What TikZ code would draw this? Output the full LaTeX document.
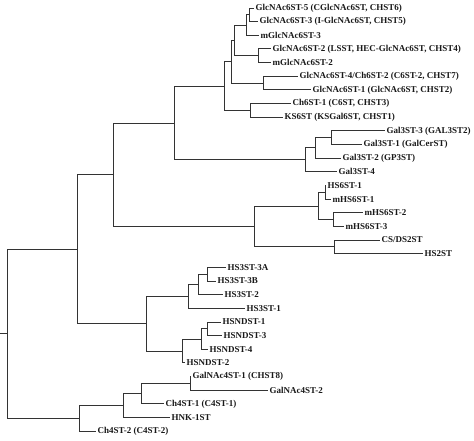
\documentclass[tikz,border=0pt]{standalone}
\usepackage{fontspec}
\setmainfont{Liberation Serif}
\begin{document}
\begin{tikzpicture}[x=1pt,y=-1pt,
  branch/.style={line width=0.9pt, draw=black!80},
  lab/.style={anchor=west, inner sep=1.5pt, text=black!90, font=\bfseries\fontsize{9}{10.5}\selectfont}]
\useasboundingbox (0,0) rectangle (474,441);
% leaves
\node[lab] (l1) at (254,8) {GlcNAc6ST-5 (CGlcNAc6ST, CHST6)};
\node[lab] (l2) at (258,21.65) {GlcNAc6ST-3 (I-GlcNAc6ST, CHST5)};
\node[lab] (l3) at (259,35.3) {mGlcNAc6ST-3};
\node[lab] (l4) at (271,48.95) {GlcNAc6ST-2 (LSST, HEC-GlcNAc6ST, CHST4)};
\node[lab] (l5) at (271,62.6) {mGlcNAc6ST-2};
\node[lab] (l6) at (298,76.25) {GlcNAc6ST-4/Ch6ST-2 (C6ST-2, CHST7)};
\node[lab] (l7) at (311,89.9) {GlcNAc6ST-1 (GlcNAc6ST, CHST2)};
\node[lab] (l8) at (291,103.55) {Ch6ST-1 (C6ST, CHST3)};
\node[lab] (l9) at (283,117.2) {KS6ST (KSGal6ST, CHST1)};
\node[lab] (l10) at (385,130.85) {Gal3ST-3 (GAL3ST2)};
\node[lab] (l11) at (362,144.5) {Gal3ST-1 (GalCerST)};
\node[lab] (l12) at (341,158.15) {Gal3ST-2 (GP3ST)};
\node[lab] (l13) at (337,171.8) {Gal3ST-4};
\node[lab] (l14) at (326,185.45) {HS6ST-1};
\node[lab] (l15) at (331,199.1) {mHS6ST-1};
\node[lab] (l16) at (363,212.75) {mHS6ST-2};
\node[lab] (l17) at (344,226.4) {mHS6ST-3};
\node[lab] (l18) at (380,240.05) {CS/DS2ST};
\node[lab] (l19) at (423,253.7) {HS2ST};
\node[lab] (l20) at (226,267.35) {HS3ST-3A};
\node[lab] (l21) at (216,281.0) {HS3ST-3B};
\node[lab] (l22) at (223,294.65) {HS3ST-2};
\node[lab] (l23) at (245,308.3) {HS3ST-1};
\node[lab] (l24) at (221,321.95) {HSNDST-1};
\node[lab] (l25) at (222,335.6) {HSNDST-3};
\node[lab] (l26) at (208,349.25) {HSNDST-4};
\node[lab] (l27) at (185,362.9) {HSNDST-2};
\node[lab] (l28) at (191,376.55) {GalNAc4ST-1 (CHST8)};
\node[lab] (l29) at (268,390.2) {GalNAc4ST-2};
\node[lab] (l30) at (164,403.85) {Ch4ST-1 (C4ST-1)};
\node[lab] (l31) at (170,417.5) {HNK-1ST};
\node[lab] (l32) at (96,431.15) {Ch4ST-2 (C4ST-2)};
% internal nodes
\coordinate (A) at (249,14.8);
\coordinate (B) at (246,25.05);
\coordinate (D) at (258,55.8);
\coordinate (C) at (234,40.4);
\coordinate (G) at (263,83.1);
\coordinate (F) at (231,61.75);
\coordinate (CK) at (250,110.4);
\coordinate (H) at (224,86.1);
\coordinate (Q) at (331,137.7);
\coordinate (Z) at (315,147.9);
\coordinate (Y) at (305,159.85);
\coordinate (W) at (174,123.0);
\coordinate (R1) at (325,192.3);
\coordinate (R2) at (333,219.6);
\coordinate (R) at (318,205.95);
\coordinate (S) at (334,246.9);
\coordinate (X) at (254,226.4);
\coordinate (V) at (113,174.7);
\coordinate (K2) at (207,274.2);
\coordinate (K1) at (198,284.4);
\coordinate (K) at (188,296.35);
\coordinate (N2) at (207,328.8);
\coordinate (N1) at (201,339.0);
\coordinate (N) at (182,350.95);
\coordinate (T) at (146,323.65);
\coordinate (U) at (77,249.2);
\coordinate (L3) at (190,383.4);
\coordinate (L2) at (141,393.6);
\coordinate (L1) at (123,405.55);
\coordinate (L) at (79,418.35);
\coordinate (root) at (7,333.8);
\coordinate (rt) at (0,333.8);
% connectors
\draw[branch] (rt) -- (root);
\draw[branch] (root) |- (U);
\draw[branch] (root) |- (L);
\draw[branch] (U) |- (V);
\draw[branch] (U) |- (T);
\draw[branch] (V) |- (W);
\draw[branch] (V) |- (X);
\draw[branch] (W) |- (H);
\draw[branch] (W) |- (Y);
\draw[branch] (H) |- (F);
\draw[branch] (H) |- (CK);
\draw[branch] (F) |- (C);
\draw[branch] (F) |- (G);
\draw[branch] (C) |- (B);
\draw[branch] (C) |- (D);
\draw[branch] (B) |- (A);
\draw[branch] (B) |- (l3.west);
\draw[branch] (A) |- (l1.west);
\draw[branch] (A) |- (l2.west);
\draw[branch] (D) |- (l4.west);
\draw[branch] (D) |- (l5.west);
\draw[branch] (G) |- (l6.west);
\draw[branch] (G) |- (l7.west);
\draw[branch] (CK) |- (l8.west);
\draw[branch] (CK) |- (l9.west);
\draw[branch] (Y) |- (Z);
\draw[branch] (Y) |- (l13.west);
\draw[branch] (Z) |- (Q);
\draw[branch] (Z) |- (l12.west);
\draw[branch] (Q) |- (l10.west);
\draw[branch] (Q) |- (l11.west);
\draw[branch] (X) |- (R);
\draw[branch] (X) |- (S);
\draw[branch] (R) |- (R1);
\draw[branch] (R) |- (R2);
\draw[branch] (R1) |- (l14.west);
\draw[branch] (R1) |- (l15.west);
\draw[branch] (R2) |- (l16.west);
\draw[branch] (R2) |- (l17.west);
\draw[branch] (S) |- (l18.west);
\draw[branch] (S) |- (l19.west);
\draw[branch] (T) |- (K);
\draw[branch] (T) |- (N);
\draw[branch] (K) |- (K1);
\draw[branch] (K) |- (l23.west);
\draw[branch] (K1) |- (K2);
\draw[branch] (K1) |- (l22.west);
\draw[branch] (K2) |- (l20.west);
\draw[branch] (K2) |- (l21.west);
\draw[branch] (N) |- (N1);
\draw[branch] (N) |- (l27.west);
\draw[branch] (N1) |- (N2);
\draw[branch] (N1) |- (l26.west);
\draw[branch] (N2) |- (l24.west);
\draw[branch] (N2) |- (l25.west);
\draw[branch] (L) |- (L1);
\draw[branch] (L) |- (l32.west);
\draw[branch] (L1) |- (L2);
\draw[branch] (L1) |- (l31.west);
\draw[branch] (L2) |- (L3);
\draw[branch] (L2) |- (l30.west);
\draw[branch] (L3) |- (l28.west);
\draw[branch] (L3) |- (l29.west);
\end{tikzpicture}
\end{document}
